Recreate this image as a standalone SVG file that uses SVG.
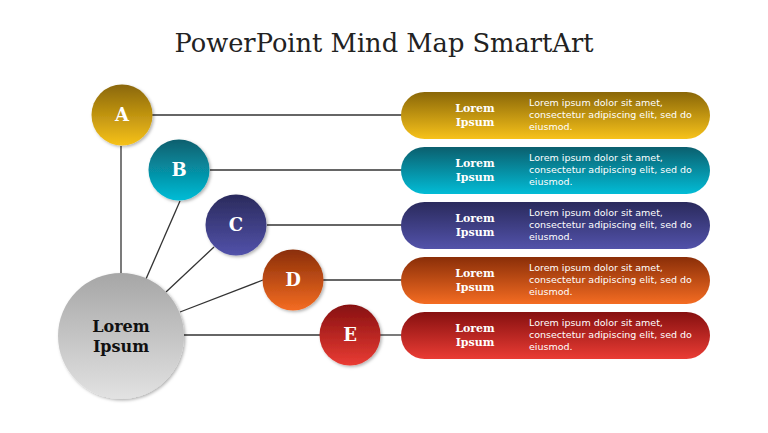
<svg xmlns="http://www.w3.org/2000/svg" width="768" height="433" viewBox="0 0 768 433">
<defs>
<linearGradient id="gA" x1="0" y1="0" x2="0" y2="1"><stop offset="0" stop-color="#8a6708"/><stop offset="1" stop-color="#f7c21a"/></linearGradient>
<linearGradient id="gB" x1="0" y1="0" x2="0" y2="1"><stop offset="0" stop-color="#0b5f6e"/><stop offset="1" stop-color="#02bcd6"/></linearGradient>
<linearGradient id="gC" x1="0" y1="0" x2="0" y2="1"><stop offset="0" stop-color="#2a2a5c"/><stop offset="1" stop-color="#5252aa"/></linearGradient>
<linearGradient id="gD" x1="0" y1="0" x2="0" y2="1"><stop offset="0" stop-color="#8a2e08"/><stop offset="1" stop-color="#f46c22"/></linearGradient>
<linearGradient id="gE" x1="0" y1="0" x2="0" y2="1"><stop offset="0" stop-color="#861010"/><stop offset="1" stop-color="#ea3c34"/></linearGradient>
<linearGradient id="gM" x1="0" y1="0" x2="0" y2="1"><stop offset="0" stop-color="#a6a6a6"/><stop offset="1" stop-color="#e2e2e2"/></linearGradient>
<filter id="sh" x="-20%" y="-20%" width="150%" height="150%"><feDropShadow dx="1.5" dy="1.5" stdDeviation="1.5" flood-color="#000" flood-opacity="0.3"/></filter>
</defs>
<style>
.title{font-family:"DejaVu Serif",serif;font-size:25.7px;fill:#222}
.lbl{font-family:"DejaVu Serif",serif;font-weight:bold;font-size:18px;fill:#fff;text-anchor:middle}
.hd{font-family:"DejaVu Serif",serif;font-weight:bold;font-size:11px;fill:#fff;text-anchor:middle}
.ds{font-family:"DejaVu Sans",sans-serif;font-size:9.5px;fill:#fff}
.mt{font-family:"DejaVu Serif",serif;font-weight:bold;font-size:16px;fill:#111;text-anchor:middle}
.ln{stroke:#333;stroke-width:1.3;fill:none}
</style>
<rect width="768" height="433" fill="#fff"/>
<text class="title" x="384" y="52" text-anchor="middle">PowerPoint Mind Map SmartArt</text>
<g id="connectors">
<line class="ln" x1="121" y1="146" x2="121" y2="274"/>
<line class="ln" x1="152" y1="115" x2="402" y2="115"/>
<line class="ln" x1="180" y1="201" x2="146" y2="279"/>
<line class="ln" x1="210" y1="170" x2="402" y2="170"/>
<line class="ln" x1="214" y1="247" x2="166" y2="292"/>
<line class="ln" x1="267" y1="225" x2="402" y2="225"/>
<line class="ln" x1="263" y1="280" x2="180" y2="312"/>
<line class="ln" x1="323" y1="280" x2="402" y2="280"/>
<line class="ln" x1="184" y1="335" x2="320" y2="335"/>
<line class="ln" x1="380" y1="335" x2="402" y2="335"/>
</g>
<g id="main">
<circle cx="121" cy="336" r="63" fill="url(#gM)" filter="url(#sh)"/>
<text class="mt" x="121" y="332">Lorem</text>
<text class="mt" x="121" y="352">Ipsum</text>
</g>
<g id="nodeA">
<circle cx="122" cy="115" r="30.5" fill="url(#gA)" filter="url(#sh)"/>
<text class="lbl" x="122" y="121">A</text>
</g>
<g id="nodeB">
<circle cx="179" cy="170" r="30.5" fill="url(#gB)" filter="url(#sh)"/>
<text class="lbl" x="179" y="176">B</text>
</g>
<g id="nodeC">
<circle cx="236" cy="225" r="30.5" fill="url(#gC)" filter="url(#sh)"/>
<text class="lbl" x="236" y="231">C</text>
</g>
<g id="nodeD">
<circle cx="293" cy="280" r="30.5" fill="url(#gD)" filter="url(#sh)"/>
<text class="lbl" x="293" y="286">D</text>
</g>
<g id="nodeE">
<circle cx="350" cy="335" r="30.5" fill="url(#gE)" filter="url(#sh)"/>
<text class="lbl" x="350" y="341">E</text>
</g>
<g id="pillA">
<rect x="401" y="92" width="309" height="47" rx="23.5" fill="url(#gA)"/>
<text class="hd" x="475" y="112">Lorem</text><text class="hd" x="475" y="126">Ipsum</text>
<text class="ds" x="529" y="106">Lorem ipsum dolor sit amet,</text>
<text class="ds" x="529" y="118">consectetur adipiscing elit, sed do</text>
<text class="ds" x="529" y="130">eiusmod.</text>
</g>
<g id="pillB">
<rect x="401" y="147" width="309" height="47" rx="23.5" fill="url(#gB)"/>
<text class="hd" x="475" y="167">Lorem</text><text class="hd" x="475" y="181">Ipsum</text>
<text class="ds" x="529" y="161">Lorem ipsum dolor sit amet,</text>
<text class="ds" x="529" y="173">consectetur adipiscing elit, sed do</text>
<text class="ds" x="529" y="185">eiusmod.</text>
</g>
<g id="pillC">
<rect x="401" y="202" width="309" height="47" rx="23.5" fill="url(#gC)"/>
<text class="hd" x="475" y="222">Lorem</text><text class="hd" x="475" y="236">Ipsum</text>
<text class="ds" x="529" y="216">Lorem ipsum dolor sit amet,</text>
<text class="ds" x="529" y="228">consectetur adipiscing elit, sed do</text>
<text class="ds" x="529" y="240">eiusmod.</text>
</g>
<g id="pillD">
<rect x="401" y="257" width="309" height="47" rx="23.5" fill="url(#gD)"/>
<text class="hd" x="475" y="277">Lorem</text><text class="hd" x="475" y="291">Ipsum</text>
<text class="ds" x="529" y="271">Lorem ipsum dolor sit amet,</text>
<text class="ds" x="529" y="283">consectetur adipiscing elit, sed do</text>
<text class="ds" x="529" y="295">eiusmod.</text>
</g>
<g id="pillE">
<rect x="401" y="312" width="309" height="47" rx="23.5" fill="url(#gE)"/>
<text class="hd" x="475" y="332">Lorem</text><text class="hd" x="475" y="346">Ipsum</text>
<text class="ds" x="529" y="326">Lorem ipsum dolor sit amet,</text>
<text class="ds" x="529" y="338">consectetur adipiscing elit, sed do</text>
<text class="ds" x="529" y="350">eiusmod.</text>
</g>
</svg>
